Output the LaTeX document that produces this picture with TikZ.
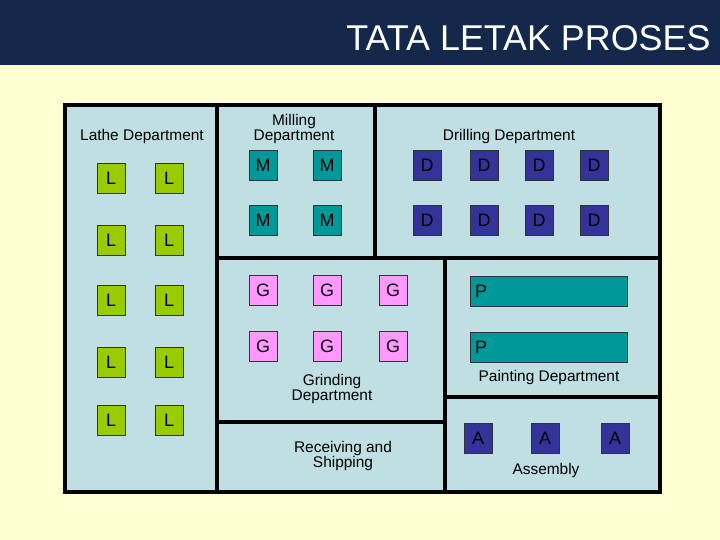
\documentclass[tikz,border=0pt]{standalone}
\usepackage{fontspec}
\setmainfont{Liberation Sans}
\begin{document}
\begin{tikzpicture}[x=1bp,y=-1bp,
  mach/.style={draw=black!80,line width=0.8pt,minimum width=28bp,minimum height=30bp,inner sep=0pt,font=\fontsize{18}{18}\selectfont},
  lab/.style={font=\fontsize{15.5}{16}\selectfont,align=center},
  wall/.style={line width=3.5pt,black}]
\definecolor{bg}{HTML}{FFFFD2}\definecolor{hdr}{HTML}{14284B}
\definecolor{room}{HTML}{BFDFE3}\definecolor{lg}{HTML}{99CC00}
\definecolor{tl}{HTML}{009999}\definecolor{nv}{HTML}{333399}\definecolor{pk}{HTML}{FF99FF}
\fill[bg] (0,0) rectangle (720,540);
\useasboundingbox (0,0) rectangle (720,540);
\fill[hdr] (0,0) rectangle (720,65);
\node[anchor=east,text=white,font=\fontsize{36}{36}\selectfont] (title) at (714,38) {TATA LETAK PROSES};
\fill[room] (65,105) rectangle (660,492);
\draw[wall] (65,105) rectangle (660,492);
\draw[wall] (217,105) -- (217,492);
\draw[wall] (217,258) -- (660,258);
\draw[wall] (375,105) -- (375,258);
\draw[wall] (445,258) -- (445,492);
\draw[wall] (217,422) -- (445,422);
\draw[wall] (445,397) -- (660,397);
\node[lab] (lathe) at (142,137) {Lathe Department};
\node[lab] (mill) at (294,129) {Milling\\Department};
\node[lab] (drill) at (509,137) {Drilling Department};
\node[lab] (grind) at (332,389) {Grinding\\Department};
\node[lab] (recv) at (343,456) {Receiving and\\Shipping};
\node[lab] (paint) at (549,378) {Painting Department};
\node[lab] (asm) at (546,471) {Assembly};
\foreach \y [count=\i] in {178,240,300,362,420}{
  \node[mach,fill=lg] (L1\i) at (111,\y) {L};
  \node[mach,fill=lg] (L2\i) at (169,\y) {L};}
\foreach \y [count=\i] in {165,220}{
  \node[mach,fill=tl] (M1\i) at (263,\y) {M};
  \node[mach,fill=tl] (M2\i) at (327,\y) {M};
  \foreach \x [count=\j] in {427,484,539,594}{\node[mach,fill=nv] (D\j\i) at (\x,\y) {D};}}
\foreach \y [count=\i] in {290,346}{
  \foreach \x [count=\j] in {263,327,393}{\node[mach,fill=pk] (G\j\i) at (\x,\y) {G};}
  \node[mach,fill=tl,minimum width=157bp,text width=147bp,align=left] (P\i) at (548.5,\y+1) {P};}
\foreach \x [count=\j] in {478,545,615}{\node[mach,fill=nv] (A\j) at (\x,438) {A};}
\end{tikzpicture}
\end{document}
